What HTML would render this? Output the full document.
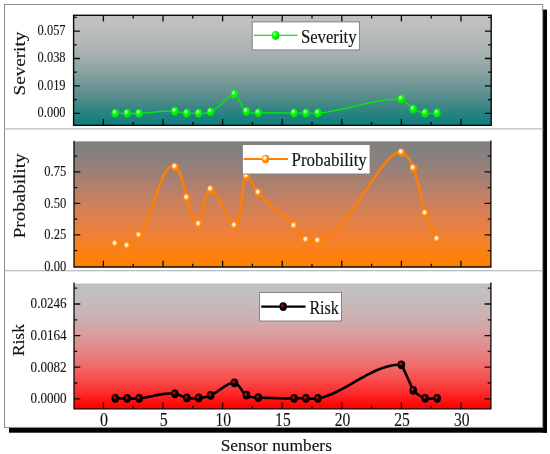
<!DOCTYPE html>
<html lang="en"><head><meta charset="utf-8"><title>Sensor numbers</title>
<style>html,body{margin:0;padding:0;background:#fff;}svg{display:block;}text{font-family:"Liberation Serif","DejaVu Serif",serif;fill:#141414;stroke:#141414;stroke-width:0.16px;}</style></head><body>
<svg width="550" height="454" viewBox="0 0 550 454">
<defs>
<linearGradient id="g1" x1="0" y1="0" x2="0" y2="1"><stop offset="0.0000" stop-color="#c0c0c0"/><stop offset="0.0312" stop-color="#c0c0c0"/><stop offset="0.0625" stop-color="#bfbfbf"/><stop offset="0.0938" stop-color="#bebfbf"/><stop offset="0.1250" stop-color="#bcbebe"/><stop offset="0.1562" stop-color="#babdbd"/><stop offset="0.1875" stop-color="#b8bbbb"/><stop offset="0.2188" stop-color="#b5bab9"/><stop offset="0.2500" stop-color="#b2b8b8"/><stop offset="0.2812" stop-color="#afb6b6"/><stop offset="0.3125" stop-color="#abb4b3"/><stop offset="0.3438" stop-color="#a7b1b1"/><stop offset="0.3750" stop-color="#a2afaf"/><stop offset="0.4062" stop-color="#9dacac"/><stop offset="0.4375" stop-color="#98aaa9"/><stop offset="0.4688" stop-color="#93a7a6"/><stop offset="0.5000" stop-color="#8da4a3"/><stop offset="0.5312" stop-color="#87a1a0"/><stop offset="0.5625" stop-color="#809e9d"/><stop offset="0.5938" stop-color="#7a9b9a"/><stop offset="0.6250" stop-color="#729897"/><stop offset="0.6562" stop-color="#6b9594"/><stop offset="0.6875" stop-color="#639291"/><stop offset="0.7188" stop-color="#5b8f8e"/><stop offset="0.7500" stop-color="#538d8b"/><stop offset="0.7812" stop-color="#4a8a88"/><stop offset="0.8125" stop-color="#418886"/><stop offset="0.8438" stop-color="#378584"/><stop offset="0.8750" stop-color="#2e8482"/><stop offset="0.9062" stop-color="#248280"/><stop offset="0.9375" stop-color="#1a817f"/><stop offset="0.9688" stop-color="#12807e"/><stop offset="1.0000" stop-color="#0e807e"/></linearGradient>
<linearGradient id="g2" x1="0" y1="0" x2="0" y2="1"><stop offset="0.0000" stop-color="#808080"/><stop offset="0.0312" stop-color="#818080"/><stop offset="0.0625" stop-color="#82807f"/><stop offset="0.0938" stop-color="#85807f"/><stop offset="0.1250" stop-color="#89807d"/><stop offset="0.1562" stop-color="#8d807c"/><stop offset="0.1875" stop-color="#92807a"/><stop offset="0.2188" stop-color="#988078"/><stop offset="0.2500" stop-color="#9d8076"/><stop offset="0.2812" stop-color="#a38074"/><stop offset="0.3125" stop-color="#a98071"/><stop offset="0.3438" stop-color="#af806e"/><stop offset="0.3750" stop-color="#b5806b"/><stop offset="0.4062" stop-color="#bb8068"/><stop offset="0.4375" stop-color="#c18064"/><stop offset="0.4688" stop-color="#c78060"/><stop offset="0.5000" stop-color="#cd805c"/><stop offset="0.5312" stop-color="#d28058"/><stop offset="0.5625" stop-color="#d78054"/><stop offset="0.5938" stop-color="#dc804f"/><stop offset="0.6250" stop-color="#e1804a"/><stop offset="0.6562" stop-color="#e58045"/><stop offset="0.6875" stop-color="#e9803f"/><stop offset="0.7188" stop-color="#ed803a"/><stop offset="0.7500" stop-color="#f18034"/><stop offset="0.7812" stop-color="#f4802d"/><stop offset="0.8125" stop-color="#f78027"/><stop offset="0.8438" stop-color="#f98020"/><stop offset="0.8750" stop-color="#fb8018"/><stop offset="0.9062" stop-color="#fd8010"/><stop offset="0.9375" stop-color="#fe8008"/><stop offset="0.9688" stop-color="#ff8002"/><stop offset="1.0000" stop-color="#ff8000"/></linearGradient>
<linearGradient id="g3" x1="0" y1="0" x2="0" y2="1"><stop offset="0.0000" stop-color="#c0c0c0"/><stop offset="0.0312" stop-color="#c0c0c0"/><stop offset="0.0625" stop-color="#c1bfbf"/><stop offset="0.0938" stop-color="#c2bebe"/><stop offset="0.1250" stop-color="#c3bcbc"/><stop offset="0.1562" stop-color="#c5baba"/><stop offset="0.1875" stop-color="#c7b8b8"/><stop offset="0.2188" stop-color="#c9b5b5"/><stop offset="0.2500" stop-color="#ccb2b2"/><stop offset="0.2812" stop-color="#ceaeae"/><stop offset="0.3125" stop-color="#d1abab"/><stop offset="0.3438" stop-color="#d4a6a6"/><stop offset="0.3750" stop-color="#d7a2a2"/><stop offset="0.4062" stop-color="#da9d9d"/><stop offset="0.4375" stop-color="#dd9898"/><stop offset="0.4688" stop-color="#df9292"/><stop offset="0.5000" stop-color="#e28c8c"/><stop offset="0.5312" stop-color="#e58686"/><stop offset="0.5625" stop-color="#e88080"/><stop offset="0.5938" stop-color="#eb7979"/><stop offset="0.6250" stop-color="#ed7272"/><stop offset="0.6562" stop-color="#f06a6a"/><stop offset="0.6875" stop-color="#f26262"/><stop offset="0.7188" stop-color="#f45a5a"/><stop offset="0.7500" stop-color="#f75151"/><stop offset="0.7812" stop-color="#f84848"/><stop offset="0.8125" stop-color="#fa3e3e"/><stop offset="0.8438" stop-color="#fb3434"/><stop offset="0.8750" stop-color="#fd2929"/><stop offset="0.9062" stop-color="#fe1e1e"/><stop offset="0.9375" stop-color="#fe1212"/><stop offset="0.9688" stop-color="#ff0505"/><stop offset="1.0000" stop-color="#ff0000"/></linearGradient>
<radialGradient id="mg" cx="0.38" cy="0.36" r="0.62" fx="0.36" fy="0.34"><stop offset="0" stop-color="#ffffff"/><stop offset="0.22" stop-color="#80ff80"/><stop offset="0.45" stop-color="#00ff00"/><stop offset="0.85" stop-color="#00f000"/><stop offset="1" stop-color="#00c820"/></radialGradient>
<radialGradient id="mo" cx="0.40" cy="0.38" r="0.62" fx="0.40" fy="0.38"><stop offset="0" stop-color="#ffffff"/><stop offset="0.16" stop-color="#ffffff"/><stop offset="0.42" stop-color="#ffb870"/><stop offset="0.62" stop-color="#ff8508"/><stop offset="1" stop-color="#ff8000"/></radialGradient>
<radialGradient id="mr" cx="0.40" cy="0.40" r="0.62" fx="0.40" fy="0.40"><stop offset="0" stop-color="#ec1010"/><stop offset="0.13" stop-color="#cc0a0a"/><stop offset="0.30" stop-color="#480000"/><stop offset="0.44" stop-color="#060000"/><stop offset="1" stop-color="#000000"/></radialGradient>
</defs>
<rect x="0" y="0" width="550" height="454" fill="#ffffff"/>
<rect x="542.5" y="9.6" width="4.5" height="423.1" fill="#000"/>
<rect x="9" y="427.6" width="538" height="5.1" fill="#000"/>
<rect x="4.5" y="4.5" width="538.2" height="422.9" fill="#fff" stroke="#8c8c8c" stroke-width="1"/>
<line x1="4.5" y1="128.9" x2="542.7" y2="128.9" stroke="#bdbdbd" stroke-width="1.1"/>
<line x1="4.5" y1="270.8" x2="542.7" y2="270.8" stroke="#adadad" stroke-width="1.1"/>
<rect x="73.6" y="15.3" width="417.6" height="110.0" fill="url(#g1)"/>
<path d="M115.32,113.40 L115.63,113.40 L115.94,113.40 L116.26,113.39 L116.57,113.39 L116.88,113.39 L117.19,113.39 L117.50,113.38 L117.81,113.38 L118.12,113.38 L118.43,113.38 L118.74,113.37 L119.05,113.37 L119.36,113.37 L119.67,113.37 L119.98,113.37 L120.29,113.37 L120.60,113.37 L120.91,113.36 L121.22,113.36 L121.52,113.36 L121.83,113.36 L122.14,113.36 L122.44,113.36 L122.75,113.36 L123.05,113.36 L123.35,113.36 L123.66,113.36 L123.96,113.37 L124.26,113.37 L124.56,113.37 L124.86,113.37 L125.16,113.37 L125.46,113.38 L125.76,113.38 L126.06,113.38 L126.36,113.39 L126.65,113.39 L126.95,113.40 L127.24,113.40 L127.53,113.41 L127.83,113.41 L128.12,113.42 L128.41,113.42 L128.70,113.43 L128.99,113.44 L129.28,113.44 L129.57,113.45 L129.86,113.45 L130.15,113.46 L130.44,113.47 L130.73,113.47 L131.02,113.48 L131.31,113.49 L131.61,113.49 L131.90,113.50 L132.19,113.50 L132.49,113.50 L132.79,113.51 L133.08,113.51 L133.38,113.51 L133.68,113.52 L133.99,113.52 L134.29,113.52 L134.60,113.52 L134.91,113.52 L135.22,113.51 L135.53,113.51 L135.85,113.51 L136.16,113.50 L136.48,113.50 L136.81,113.49 L137.13,113.48 L137.46,113.47 L137.80,113.46 L138.13,113.45 L138.47,113.43 L138.81,113.42 L139.16,113.40 L139.97,113.36 L140.79,113.30 L141.63,113.25 L142.49,113.18 L143.36,113.11 L144.25,113.03 L145.15,112.95 L146.07,112.87 L146.99,112.78 L147.93,112.69 L148.87,112.60 L149.83,112.50 L150.79,112.40 L151.75,112.31 L152.72,112.21 L153.70,112.11 L154.68,112.02 L155.66,111.92 L156.64,111.83 L157.62,111.74 L158.60,111.65 L159.58,111.57 L160.56,111.49 L161.53,111.42 L162.50,111.35 L163.46,111.29 L164.41,111.23 L165.36,111.19 L166.29,111.15 L167.22,111.11 L168.13,111.09 L169.03,111.08 L169.92,111.08 L170.80,111.08 L171.66,111.10 L172.50,111.13 L173.33,111.18 L174.13,111.23 L174.92,111.30 L175.27,111.34 L175.61,111.37 L175.95,111.41 L176.29,111.46 L176.62,111.50 L176.95,111.55 L177.27,111.60 L177.60,111.65 L177.92,111.70 L178.23,111.76 L178.55,111.81 L178.86,111.87 L179.17,111.93 L179.47,111.99 L179.78,112.05 L180.08,112.11 L180.38,112.17 L180.68,112.23 L180.98,112.29 L181.28,112.35 L181.57,112.41 L181.87,112.47 L182.16,112.53 L182.45,112.59 L182.74,112.65 L183.03,112.71 L183.32,112.76 L183.62,112.82 L183.91,112.87 L184.20,112.92 L184.49,112.97 L184.78,113.02 L185.07,113.07 L185.36,113.11 L185.66,113.16 L185.95,113.20 L186.25,113.23 L186.54,113.27 L186.84,113.30 L187.13,113.33 L187.42,113.35 L187.72,113.38 L188.01,113.40 L188.31,113.41 L188.61,113.43 L188.91,113.44 L189.20,113.45 L189.51,113.46 L189.81,113.47 L190.11,113.47 L190.41,113.47 L190.72,113.48 L191.02,113.48 L191.33,113.47 L191.64,113.47 L191.94,113.47 L192.25,113.46 L192.56,113.46 L192.87,113.45 L193.18,113.44 L193.49,113.43 L193.80,113.43 L194.11,113.42 L194.42,113.41 L194.73,113.40 L195.04,113.39 L195.35,113.38 L195.66,113.37 L195.97,113.36 L196.28,113.35 L196.59,113.34 L196.90,113.33 L197.21,113.33 L197.52,113.32 L197.83,113.31 L198.14,113.31 L198.45,113.30 L198.76,113.30 L199.07,113.30 L199.38,113.30 L199.69,113.30 L200.00,113.30 L200.31,113.30 L200.62,113.30 L200.93,113.30 L201.24,113.30 L201.55,113.30 L201.86,113.30 L202.16,113.30 L202.47,113.30 L202.78,113.29 L203.08,113.29 L203.39,113.28 L203.70,113.27 L204.00,113.26 L204.31,113.24 L204.61,113.22 L204.92,113.20 L205.22,113.18 L205.52,113.15 L205.83,113.12 L206.13,113.08 L206.44,113.04 L206.74,113.00 L207.04,112.95 L207.35,112.89 L207.65,112.83 L207.95,112.77 L208.25,112.70 L208.56,112.62 L208.86,112.54 L209.16,112.45 L209.47,112.35 L209.77,112.25 L210.07,112.14 L210.38,112.02 L210.68,111.90 L211.39,111.58 L212.10,111.22 L212.81,110.82 L213.52,110.38 L214.23,109.92 L214.94,109.42 L215.65,108.90 L216.35,108.36 L217.05,107.79 L217.75,107.21 L218.44,106.61 L219.13,105.99 L219.81,105.37 L220.49,104.74 L221.16,104.10 L221.83,103.46 L222.49,102.82 L223.15,102.19 L223.79,101.56 L224.43,100.94 L225.06,100.33 L225.69,99.73 L226.30,99.15 L226.90,98.59 L227.50,98.05 L228.08,97.54 L228.65,97.05 L229.21,96.59 L229.76,96.17 L230.30,95.78 L230.83,95.42 L231.34,95.11 L231.84,94.85 L232.32,94.62 L232.79,94.45 L233.25,94.33 L233.69,94.26 L234.11,94.25 L234.52,94.30 L234.86,94.39 L235.19,94.53 L235.51,94.71 L235.82,94.92 L236.11,95.18 L236.40,95.47 L236.69,95.80 L236.96,96.16 L237.23,96.55 L237.50,96.97 L237.76,97.41 L238.01,97.87 L238.27,98.36 L238.52,98.86 L238.77,99.39 L239.02,99.93 L239.27,100.48 L239.52,101.04 L239.77,101.61 L240.03,102.18 L240.29,102.77 L240.55,103.35 L240.82,103.93 L241.09,104.52 L241.37,105.09 L241.66,105.67 L241.96,106.23 L242.26,106.78 L242.58,107.33 L242.90,107.85 L243.24,108.36 L243.59,108.86 L243.95,109.33 L244.33,109.78 L244.72,110.20 L245.12,110.59 L245.54,110.96 L245.98,111.30 L246.44,111.60 L246.67,111.74 L246.91,111.86 L247.15,111.98 L247.39,112.09 L247.64,112.20 L247.89,112.29 L248.15,112.38 L248.41,112.47 L248.68,112.54 L248.95,112.61 L249.22,112.68 L249.50,112.73 L249.78,112.78 L250.07,112.83 L250.36,112.87 L250.65,112.91 L250.95,112.94 L251.25,112.96 L251.55,112.99 L251.86,113.00 L252.17,113.02 L252.49,113.03 L252.81,113.04 L253.13,113.04 L253.45,113.04 L253.78,113.04 L254.12,113.04 L254.45,113.03 L254.79,113.03 L255.14,113.02 L255.48,113.01 L255.83,112.99 L256.18,112.98 L256.54,112.97 L256.90,112.95 L257.26,112.94 L257.62,112.93 L257.99,112.91 L258.36,112.90 L259.20,112.87 L260.06,112.85 L260.93,112.83 L261.81,112.81 L262.71,112.80 L263.61,112.79 L264.52,112.78 L265.45,112.78 L266.38,112.77 L267.31,112.77 L268.26,112.78 L269.21,112.78 L270.16,112.79 L271.12,112.79 L272.08,112.80 L273.05,112.81 L274.01,112.83 L274.98,112.84 L275.95,112.85 L276.92,112.87 L277.88,112.88 L278.85,112.90 L279.81,112.92 L280.76,112.93 L281.71,112.95 L282.66,112.97 L283.60,112.98 L284.53,113.00 L285.46,113.01 L286.38,113.03 L287.29,113.04 L288.18,113.06 L289.07,113.07 L289.95,113.08 L290.81,113.08 L291.66,113.09 L292.49,113.10 L293.31,113.10 L294.12,113.10 L294.47,113.10 L294.81,113.10 L295.16,113.10 L295.49,113.10 L295.83,113.09 L296.16,113.09 L296.49,113.09 L296.82,113.09 L297.15,113.08 L297.47,113.08 L297.79,113.08 L298.11,113.08 L298.42,113.07 L298.74,113.07 L299.05,113.07 L299.36,113.06 L299.67,113.06 L299.97,113.06 L300.27,113.06 L300.57,113.05 L300.87,113.05 L301.17,113.05 L301.47,113.05 L301.76,113.05 L302.06,113.05 L302.35,113.05 L302.64,113.05 L302.93,113.05 L303.21,113.05 L303.50,113.05 L303.79,113.05 L304.07,113.06 L304.35,113.06 L304.64,113.07 L304.92,113.07 L305.20,113.08 L305.48,113.08 L305.76,113.09 L306.04,113.10 L306.32,113.11 L306.60,113.12 L306.88,113.13 L307.15,113.14 L307.43,113.15 L307.71,113.17 L307.99,113.18 L308.27,113.19 L308.55,113.21 L308.83,113.22 L309.11,113.23 L309.40,113.24 L309.68,113.26 L309.97,113.27 L310.25,113.28 L310.54,113.29 L310.83,113.30 L311.12,113.31 L311.42,113.32 L311.72,113.32 L312.01,113.33 L312.32,113.33 L312.62,113.34 L312.93,113.34 L313.24,113.34 L313.55,113.34 L313.87,113.33 L314.19,113.33 L314.51,113.32 L314.84,113.31 L315.17,113.29 L315.50,113.28 L315.84,113.26 L316.18,113.24 L316.53,113.22 L316.88,113.19 L317.23,113.17 L317.59,113.13 L317.96,113.10 L320.10,112.91 L322.24,112.68 L324.38,112.42 L326.52,112.12 L328.66,111.79 L330.80,111.44 L332.94,111.06 L335.08,110.65 L337.22,110.23 L339.35,109.78 L341.49,109.32 L343.63,108.85 L345.77,108.36 L347.91,107.86 L350.05,107.36 L352.19,106.85 L354.33,106.33 L356.47,105.82 L358.61,105.31 L360.75,104.80 L362.89,104.30 L365.03,103.81 L367.17,103.33 L369.31,102.87 L371.45,102.42 L373.59,101.99 L375.73,101.58 L377.87,101.19 L380.01,100.83 L382.14,100.49 L384.28,100.19 L386.42,99.91 L388.56,99.67 L390.70,99.47 L392.84,99.31 L394.98,99.19 L397.12,99.11 L399.26,99.08 L401.40,99.10 L401.71,99.33 L402.01,99.57 L402.32,99.80 L402.62,100.04 L402.93,100.29 L403.23,100.53 L403.54,100.78 L403.85,101.03 L404.15,101.28 L404.46,101.54 L404.76,101.80 L405.07,102.06 L405.37,102.32 L405.68,102.58 L405.98,102.85 L406.29,103.11 L406.60,103.38 L406.90,103.65 L407.21,103.92 L407.51,104.19 L407.82,104.46 L408.12,104.73 L408.43,105.00 L408.74,105.27 L409.04,105.54 L409.35,105.82 L409.65,106.09 L409.96,106.36 L410.26,106.63 L410.57,106.90 L410.87,107.17 L411.18,107.44 L411.49,107.71 L411.79,107.98 L412.10,108.25 L412.40,108.51 L412.71,108.78 L413.01,109.04 L413.32,109.30 L413.63,109.45 L413.93,109.60 L414.24,109.75 L414.54,109.89 L414.85,110.03 L415.15,110.17 L415.46,110.31 L415.77,110.44 L416.07,110.57 L416.38,110.70 L416.68,110.82 L416.99,110.94 L417.29,111.06 L417.60,111.18 L417.90,111.29 L418.21,111.40 L418.52,111.51 L418.82,111.61 L419.13,111.72 L419.43,111.82 L419.74,111.91 L420.04,112.00 L420.35,112.09 L420.66,112.18 L420.96,112.26 L421.27,112.34 L421.57,112.42 L421.88,112.50 L422.18,112.57 L422.49,112.64 L422.79,112.70 L423.10,112.76 L423.41,112.82 L423.71,112.87 L424.02,112.93 L424.32,112.97 L424.63,113.02 L424.93,113.06 L425.24,113.10 L425.55,113.13 L425.85,113.16 L426.16,113.18 L426.46,113.20 L426.77,113.23 L427.08,113.24 L427.38,113.26 L427.69,113.28 L428.00,113.29 L428.30,113.30 L428.61,113.31 L428.91,113.32 L429.22,113.32 L429.52,113.33 L429.83,113.33 L430.14,113.33 L430.44,113.33 L430.75,113.33 L431.05,113.33 L431.36,113.32 L431.66,113.32 L431.97,113.31 L432.27,113.30 L432.58,113.30 L432.89,113.29 L433.19,113.28 L433.50,113.27 L433.80,113.26 L434.11,113.24 L434.41,113.23 L434.72,113.22 L435.02,113.20 L435.33,113.19 L435.63,113.18 L435.94,113.16 L436.24,113.15 L436.55,113.13 L436.85,113.12 L437.16,113.10" fill="none" stroke="#00f000" stroke-width="1.3"/>
<ellipse cx="115.32" cy="113.40" rx="3.8" ry="4.5" fill="url(#mg)"/>
<ellipse cx="127.24" cy="113.40" rx="3.8" ry="4.5" fill="url(#mg)"/>
<ellipse cx="139.16" cy="113.40" rx="3.8" ry="4.5" fill="url(#mg)"/>
<ellipse cx="174.92" cy="111.30" rx="3.8" ry="4.5" fill="url(#mg)"/>
<ellipse cx="186.84" cy="113.30" rx="3.8" ry="4.5" fill="url(#mg)"/>
<ellipse cx="198.76" cy="113.30" rx="3.8" ry="4.5" fill="url(#mg)"/>
<ellipse cx="210.68" cy="111.90" rx="3.8" ry="4.5" fill="url(#mg)"/>
<ellipse cx="234.52" cy="94.30" rx="3.8" ry="4.5" fill="url(#mg)"/>
<ellipse cx="246.44" cy="111.60" rx="3.8" ry="4.5" fill="url(#mg)"/>
<ellipse cx="258.36" cy="112.90" rx="3.8" ry="4.5" fill="url(#mg)"/>
<ellipse cx="294.12" cy="113.10" rx="3.8" ry="4.5" fill="url(#mg)"/>
<ellipse cx="306.04" cy="113.10" rx="3.8" ry="4.5" fill="url(#mg)"/>
<ellipse cx="317.96" cy="113.10" rx="3.8" ry="4.5" fill="url(#mg)"/>
<ellipse cx="401.40" cy="99.10" rx="3.8" ry="4.5" fill="url(#mg)"/>
<ellipse cx="413.32" cy="109.30" rx="3.8" ry="4.5" fill="url(#mg)"/>
<ellipse cx="425.24" cy="113.10" rx="3.8" ry="4.5" fill="url(#mg)"/>
<ellipse cx="437.16" cy="113.10" rx="3.8" ry="4.5" fill="url(#mg)"/>
<path d="M73.60,31.10h6.30M73.60,58.50h6.30M73.60,85.90h6.30M73.60,113.30h6.30M73.60,17.40h3.20M73.60,44.80h3.20M73.60,72.20h3.20M73.60,99.60h3.20" stroke="#0a0a0a" stroke-width="1.3" fill="none"/>
<path d="M491.20,31.10h-6.30M491.20,58.50h-6.30M491.20,85.90h-6.30M491.20,113.30h-6.30M491.20,17.40h-3.20M491.20,44.80h-3.20M491.20,72.20h-3.20M491.20,99.60h-3.20" stroke="#0a0a0a" stroke-width="1.3" fill="none"/>
<path d="M103.40,15.30v6.30M163.00,15.30v6.30M222.60,15.30v6.30M282.20,15.30v6.30M341.80,15.30v6.30M401.40,15.30v6.30M461.00,15.30v6.30M133.20,15.30v3.20M192.80,15.30v3.20M252.40,15.30v3.20M312.00,15.30v3.20M371.60,15.30v3.20M431.20,15.30v3.20" stroke="#0a0a0a" stroke-width="1.3" fill="none"/>
<path d="M103.40,125.30v-6.30M163.00,125.30v-6.30M222.60,125.30v-6.30M282.20,125.30v-6.30M341.80,125.30v-6.30M401.40,125.30v-6.30M461.00,125.30v-6.30M133.20,125.30v-3.20M192.80,125.30v-3.20M252.40,125.30v-3.20M312.00,125.30v-3.20M371.60,125.30v-3.20M431.20,125.30v-3.20" stroke="#0a0a0a" stroke-width="1.3" fill="none"/>
<rect x="73.6" y="15.3" width="417.6" height="110.0" fill="none" stroke="#0a0a0a" stroke-width="1.4"/>
<rect x="252.2" y="21.9" width="107.4" height="28" fill="#fff" stroke="#7a7a7a" stroke-width="0.9"/>
<line x1="254" y1="35.4" x2="297.3" y2="35.4" stroke="#00f000" stroke-width="1.4"/>
<ellipse cx="275.6" cy="35.4" rx="3.8" ry="4.4" fill="url(#mg)"/>
<text transform="translate(300.90,43.30) scale(0.8363,0.9394)" font-size="20.0" >Severity</text>
<rect x="74.0" y="141.4" width="416.9" height="125.6" fill="url(#g2)"/>
<path d="M115.32,244.00 L115.65,244.09 L115.97,244.18 L116.30,244.27 L116.63,244.36 L116.95,244.45 L117.28,244.54 L117.60,244.63 L117.93,244.72 L118.25,244.80 L118.57,244.88 L118.89,244.97 L119.22,245.05 L119.54,245.13 L119.85,245.20 L120.17,245.28 L120.49,245.35 L120.80,245.42 L121.12,245.49 L121.43,245.55 L121.74,245.61 L122.05,245.67 L122.36,245.73 L122.66,245.78 L122.97,245.82 L123.27,245.87 L123.57,245.91 L123.87,245.94 L124.16,245.98 L124.45,246.00 L124.75,246.03 L125.03,246.04 L125.32,246.06 L125.60,246.07 L125.88,246.07 L126.16,246.07 L126.43,246.06 L126.71,246.04 L126.97,246.03 L127.24,246.00 L127.63,245.95 L128.02,245.89 L128.40,245.81 L128.77,245.72 L129.14,245.62 L129.50,245.50 L129.85,245.37 L130.20,245.23 L130.54,245.08 L130.87,244.91 L131.21,244.73 L131.53,244.54 L131.85,244.34 L132.17,244.12 L132.48,243.89 L132.79,243.66 L133.09,243.41 L133.39,243.15 L133.69,242.88 L133.98,242.59 L134.27,242.30 L134.56,242.00 L134.84,241.69 L135.12,241.36 L135.40,241.03 L135.68,240.69 L135.95,240.33 L136.23,239.97 L136.50,239.60 L136.77,239.22 L137.04,238.83 L137.30,238.43 L137.57,238.02 L137.83,237.60 L138.10,237.18 L138.36,236.75 L138.63,236.31 L138.89,235.86 L139.16,235.40 L140.08,234.38 L140.99,233.15 L141.91,231.73 L142.83,230.13 L143.74,228.37 L144.66,226.46 L145.58,224.41 L146.50,222.24 L147.41,219.95 L148.33,217.57 L149.25,215.11 L150.16,212.57 L151.08,209.98 L152.00,207.35 L152.91,204.69 L153.83,202.01 L154.75,199.33 L155.66,196.66 L156.58,194.02 L157.50,191.41 L158.42,188.85 L159.33,186.36 L160.25,183.95 L161.17,181.63 L162.08,179.41 L163.00,177.32 L163.92,175.35 L164.83,173.53 L165.75,171.87 L166.67,170.39 L167.58,169.09 L168.50,167.99 L169.42,167.10 L170.34,166.44 L171.25,166.01 L172.17,165.85 L173.09,165.95 L174.00,166.33 L174.92,167.00 L175.28,167.06 L175.63,167.17 L175.98,167.34 L176.31,167.56 L176.65,167.83 L176.98,168.15 L177.30,168.51 L177.62,168.93 L177.94,169.39 L178.25,169.89 L178.55,170.43 L178.86,171.02 L179.16,171.65 L179.46,172.31 L179.75,173.02 L180.04,173.76 L180.33,174.53 L180.62,175.34 L180.91,176.18 L181.20,177.05 L181.48,177.95 L181.77,178.88 L182.06,179.84 L182.34,180.82 L182.63,181.83 L182.91,182.86 L183.20,183.91 L183.49,184.99 L183.78,186.08 L184.07,187.19 L184.37,188.32 L184.66,189.46 L184.96,190.62 L185.27,191.79 L185.57,192.98 L185.88,194.17 L186.20,195.37 L186.52,196.58 L186.84,197.80 L187.13,198.90 L187.43,200.00 L187.73,201.10 L188.04,202.20 L188.35,203.30 L188.66,204.39 L188.97,205.47 L189.29,206.55 L189.60,207.61 L189.92,208.66 L190.24,209.69 L190.56,210.70 L190.89,211.70 L191.21,212.67 L191.53,213.63 L191.85,214.55 L192.18,215.45 L192.50,216.32 L192.82,217.16 L193.15,217.96 L193.47,218.73 L193.79,219.46 L194.10,220.16 L194.42,220.81 L194.73,221.42 L195.04,221.98 L195.35,222.50 L195.66,222.96 L195.96,223.38 L196.26,223.74 L196.56,224.05 L196.85,224.30 L197.13,224.50 L197.42,224.63 L197.70,224.69 L197.97,224.70 L198.24,224.64 L198.50,224.50 L198.76,224.30 L199.07,223.96 L199.36,223.51 L199.65,222.97 L199.94,222.34 L200.21,221.62 L200.49,220.83 L200.75,219.97 L201.02,219.03 L201.27,218.04 L201.53,216.99 L201.79,215.90 L202.04,214.76 L202.29,213.59 L202.54,212.38 L202.79,211.15 L203.05,209.90 L203.30,208.63 L203.56,207.36 L203.82,206.09 L204.08,204.82 L204.35,203.56 L204.63,202.32 L204.91,201.10 L205.19,199.91 L205.48,198.75 L205.78,197.63 L206.09,196.56 L206.41,195.54 L206.74,194.58 L207.08,193.68 L207.42,192.85 L207.78,192.09 L208.16,191.42 L208.54,190.83 L208.94,190.33 L209.35,189.94 L209.78,189.65 L210.22,189.46 L210.68,189.40 L211.19,189.46 L211.72,189.66 L212.26,189.98 L212.82,190.42 L213.39,190.97 L213.98,191.63 L214.59,192.38 L215.20,193.23 L215.82,194.16 L216.46,195.16 L217.10,196.23 L217.75,197.36 L218.41,198.55 L219.08,199.79 L219.75,201.07 L220.42,202.38 L221.09,203.72 L221.77,205.07 L222.45,206.44 L223.12,207.82 L223.80,209.19 L224.47,210.56 L225.14,211.91 L225.81,213.24 L226.46,214.53 L227.12,215.79 L227.76,217.01 L228.40,218.17 L229.02,219.28 L229.64,220.32 L230.24,221.29 L230.83,222.18 L231.41,222.99 L231.97,223.70 L232.52,224.31 L233.05,224.81 L233.56,225.20 L234.05,225.46 L234.52,225.60 L235.06,225.59 L235.57,225.39 L236.06,225.01 L236.51,224.47 L236.95,223.76 L237.35,222.91 L237.74,221.93 L238.10,220.81 L238.45,219.57 L238.77,218.23 L239.08,216.79 L239.38,215.25 L239.66,213.64 L239.93,211.96 L240.18,210.22 L240.43,208.43 L240.66,206.60 L240.89,204.74 L241.12,202.86 L241.33,200.98 L241.55,199.08 L241.76,197.20 L241.98,195.34 L242.19,193.51 L242.41,191.72 L242.63,189.97 L242.85,188.28 L243.08,186.67 L243.32,185.13 L243.57,183.68 L243.83,182.32 L244.10,181.08 L244.38,179.95 L244.68,178.95 L245.00,178.08 L245.33,177.37 L245.68,176.81 L246.05,176.42 L246.44,176.20 L246.63,176.16 L246.83,176.16 L247.03,176.20 L247.23,176.28 L247.44,176.39 L247.66,176.54 L247.88,176.72 L248.11,176.93 L248.34,177.18 L248.58,177.45 L248.83,177.75 L249.08,178.08 L249.34,178.43 L249.60,178.81 L249.87,179.22 L250.14,179.64 L250.42,180.09 L250.71,180.55 L251.00,181.04 L251.31,181.54 L251.61,182.06 L251.93,182.60 L252.25,183.14 L252.57,183.70 L252.91,184.28 L253.25,184.86 L253.60,185.45 L253.95,186.05 L254.32,186.65 L254.69,187.27 L255.06,187.88 L255.45,188.50 L255.84,189.12 L256.24,189.74 L256.65,190.36 L257.07,190.97 L257.49,191.59 L257.92,192.20 L258.36,192.80 L259.17,193.87 L260.01,194.92 L260.86,195.94 L261.75,196.95 L262.65,197.94 L263.56,198.91 L264.50,199.86 L265.45,200.80 L266.42,201.72 L267.39,202.62 L268.38,203.52 L269.38,204.39 L270.39,205.26 L271.40,206.11 L272.41,206.96 L273.43,207.79 L274.45,208.61 L275.47,209.43 L276.49,210.23 L277.51,211.03 L278.52,211.83 L279.52,212.62 L280.52,213.40 L281.50,214.18 L282.48,214.96 L283.44,215.74 L284.39,216.51 L285.33,217.28 L286.24,218.06 L287.14,218.83 L288.02,219.61 L288.87,220.39 L289.70,221.18 L290.51,221.96 L291.29,222.76 L292.05,223.56 L292.77,224.36 L293.46,225.18 L294.12,226.00 L294.44,226.42 L294.75,226.83 L295.05,227.25 L295.34,227.67 L295.63,228.09 L295.92,228.51 L296.20,228.93 L296.47,229.35 L296.74,229.77 L297.01,230.19 L297.27,230.61 L297.53,231.02 L297.79,231.43 L298.06,231.84 L298.32,232.25 L298.58,232.65 L298.84,233.05 L299.10,233.44 L299.36,233.83 L299.63,234.22 L299.90,234.60 L300.18,234.97 L300.46,235.33 L300.74,235.69 L301.03,236.05 L301.33,236.39 L301.63,236.73 L301.95,237.05 L302.27,237.37 L302.59,237.68 L302.93,237.98 L303.28,238.28 L303.64,238.56 L304.01,238.83 L304.39,239.08 L304.78,239.33 L305.19,239.57 L305.61,239.79 L306.04,240.00 L306.29,240.11 L306.54,240.22 L306.80,240.32 L307.06,240.42 L307.32,240.52 L307.59,240.61 L307.87,240.69 L308.14,240.77 L308.42,240.85 L308.71,240.92 L308.99,240.99 L309.29,241.06 L309.58,241.12 L309.88,241.17 L310.18,241.22 L310.48,241.27 L310.78,241.31 L311.09,241.34 L311.40,241.37 L311.72,241.40 L312.03,241.42 L312.35,241.44 L312.67,241.45 L312.99,241.45 L313.31,241.45 L313.64,241.45 L313.96,241.44 L314.29,241.42 L314.62,241.40 L314.95,241.38 L315.28,241.35 L315.61,241.31 L315.95,241.27 L316.28,241.22 L316.62,241.17 L316.95,241.11 L317.29,241.05 L317.62,240.98 L317.96,240.90 L320.41,240.18 L322.86,239.17 L325.31,237.89 L327.77,236.35 L330.22,234.57 L332.66,232.57 L335.10,230.37 L337.54,227.97 L339.96,225.41 L342.38,222.69 L344.78,219.84 L347.18,216.86 L349.55,213.78 L351.92,210.61 L354.26,207.38 L356.59,204.08 L358.89,200.76 L361.17,197.41 L363.44,194.06 L365.67,190.72 L367.88,187.42 L370.06,184.16 L372.21,180.97 L374.33,177.86 L376.42,174.84 L378.48,171.94 L380.49,169.18 L382.48,166.56 L384.42,164.11 L386.32,161.84 L388.18,159.77 L390.00,157.91 L391.78,156.29 L393.50,154.92 L395.18,153.82 L396.82,152.99 L398.40,152.47 L399.93,152.27 L401.40,152.40 L401.78,152.49 L402.16,152.61 L402.53,152.75 L402.91,152.91 L403.27,153.10 L403.63,153.31 L403.99,153.53 L404.35,153.78 L404.70,154.05 L405.05,154.34 L405.39,154.64 L405.73,154.97 L406.06,155.31 L406.39,155.66 L406.72,156.04 L407.04,156.43 L407.36,156.83 L407.68,157.25 L407.99,157.68 L408.29,158.12 L408.59,158.58 L408.89,159.05 L409.19,159.53 L409.48,160.02 L409.76,160.52 L410.04,161.03 L410.32,161.55 L410.59,162.07 L410.86,162.60 L411.13,163.14 L411.39,163.69 L411.64,164.24 L411.90,164.80 L412.14,165.36 L412.39,165.92 L412.63,166.49 L412.86,167.06 L413.09,167.63 L413.32,168.20 L413.78,169.39 L414.21,170.57 L414.63,171.76 L415.04,172.96 L415.43,174.15 L415.80,175.34 L416.16,176.54 L416.51,177.73 L416.85,178.92 L417.17,180.12 L417.49,181.31 L417.79,182.50 L418.09,183.70 L418.38,184.89 L418.66,186.08 L418.93,187.26 L419.20,188.45 L419.46,189.63 L419.72,190.81 L419.97,191.98 L420.23,193.16 L420.48,194.33 L420.73,195.49 L420.98,196.65 L421.23,197.81 L421.48,198.96 L421.73,200.11 L421.99,201.25 L422.25,202.39 L422.52,203.52 L422.79,204.65 L423.06,205.77 L423.35,206.88 L423.64,207.99 L423.94,209.08 L424.25,210.17 L424.57,211.26 L424.90,212.33 L425.24,213.40 L425.48,214.11 L425.72,214.81 L425.96,215.52 L426.21,216.21 L426.47,216.91 L426.73,217.60 L427.00,218.29 L427.27,218.97 L427.55,219.66 L427.82,220.34 L428.11,221.01 L428.40,221.69 L428.69,222.36 L428.98,223.03 L429.28,223.69 L429.58,224.36 L429.89,225.02 L430.20,225.68 L430.51,226.33 L430.83,226.99 L431.14,227.64 L431.46,228.29 L431.79,228.94 L432.11,229.59 L432.44,230.24 L432.77,230.89 L433.10,231.53 L433.43,232.17 L433.76,232.82 L434.10,233.46 L434.44,234.10 L434.77,234.74 L435.11,235.38 L435.45,236.01 L435.79,236.65 L436.13,237.29 L436.48,237.93 L436.82,238.56 L437.16,239.20" fill="none" stroke="#ff8000" stroke-width="2.4" stroke-linejoin="round" stroke-linecap="round"/>
<ellipse cx="115.32" cy="244.00" rx="3.7" ry="4.2" fill="url(#mo)"/>
<ellipse cx="127.24" cy="246.00" rx="3.7" ry="4.2" fill="url(#mo)"/>
<ellipse cx="139.16" cy="235.40" rx="3.7" ry="4.2" fill="url(#mo)"/>
<ellipse cx="174.92" cy="167.00" rx="3.7" ry="4.2" fill="url(#mo)"/>
<ellipse cx="186.84" cy="197.80" rx="3.7" ry="4.2" fill="url(#mo)"/>
<ellipse cx="198.76" cy="224.30" rx="3.7" ry="4.2" fill="url(#mo)"/>
<ellipse cx="210.68" cy="189.40" rx="3.7" ry="4.2" fill="url(#mo)"/>
<ellipse cx="234.52" cy="225.60" rx="3.7" ry="4.2" fill="url(#mo)"/>
<ellipse cx="246.44" cy="176.20" rx="3.7" ry="4.2" fill="url(#mo)"/>
<ellipse cx="258.36" cy="192.80" rx="3.7" ry="4.2" fill="url(#mo)"/>
<ellipse cx="294.12" cy="226.00" rx="3.7" ry="4.2" fill="url(#mo)"/>
<ellipse cx="306.04" cy="240.00" rx="3.7" ry="4.2" fill="url(#mo)"/>
<ellipse cx="317.96" cy="240.90" rx="3.7" ry="4.2" fill="url(#mo)"/>
<ellipse cx="401.40" cy="152.40" rx="3.7" ry="4.2" fill="url(#mo)"/>
<ellipse cx="413.32" cy="168.20" rx="3.7" ry="4.2" fill="url(#mo)"/>
<ellipse cx="425.24" cy="213.40" rx="3.7" ry="4.2" fill="url(#mo)"/>
<ellipse cx="437.16" cy="239.20" rx="3.7" ry="4.2" fill="url(#mo)"/>
<path d="M74.00,171.90h6.30M74.00,203.40h6.30M74.00,234.90h6.30M74.00,156.15h3.20M74.00,187.65h3.20M74.00,219.15h3.20M74.00,250.65h3.20" stroke="#0a0a0a" stroke-width="1.3" fill="none"/>
<path d="M490.90,171.90h-6.30M490.90,203.40h-6.30M490.90,234.90h-6.30M490.90,156.15h-3.20M490.90,187.65h-3.20M490.90,219.15h-3.20M490.90,250.65h-3.20" stroke="#0a0a0a" stroke-width="1.3" fill="none"/>
<path d="M103.40,267.00v-6.30M163.00,267.00v-6.30M222.60,267.00v-6.30M282.20,267.00v-6.30M341.80,267.00v-6.30M401.40,267.00v-6.30M461.00,267.00v-6.30M133.20,267.00v-3.20M192.80,267.00v-3.20M252.40,267.00v-3.20M312.00,267.00v-3.20M371.60,267.00v-3.20M431.20,267.00v-3.20" stroke="#0a0a0a" stroke-width="1.3" fill="none"/>
<path d="M74.0,140.8V267.0H490.9V140.6" fill="none" stroke="#0a0a0a" stroke-width="1.3"/>
<rect x="242.3" y="144.6" width="127.8" height="29.4" fill="#fff" stroke="#7a7a7a" stroke-width="0.9"/>
<line x1="243.6" y1="159" x2="288" y2="159" stroke="#ff8000" stroke-width="2.2"/>
<ellipse cx="265.5" cy="159" rx="3.7" ry="4.2" fill="url(#mo)"/>
<text transform="translate(291.50,166.00) scale(0.8480,0.9231)" font-size="20.0" >Probability</text>
<rect x="74.0" y="283.5" width="416.9" height="125.39999999999998" fill="url(#g3)"/>
<path d="M115.32,398.40 L115.63,398.40 L115.94,398.39 L116.26,398.39 L116.57,398.38 L116.88,398.38 L117.19,398.37 L117.50,398.37 L117.81,398.36 L118.12,398.36 L118.43,398.35 L118.74,398.35 L119.05,398.35 L119.36,398.34 L119.67,398.34 L119.98,398.34 L120.29,398.33 L120.60,398.33 L120.91,398.33 L121.22,398.33 L121.52,398.33 L121.83,398.33 L122.14,398.33 L122.44,398.33 L122.75,398.33 L123.05,398.33 L123.36,398.33 L123.66,398.33 L123.96,398.33 L124.26,398.34 L124.56,398.34 L124.86,398.34 L125.16,398.35 L125.46,398.35 L125.76,398.36 L126.06,398.37 L126.36,398.37 L126.65,398.38 L126.95,398.39 L127.24,398.40 L127.53,398.41 L127.83,398.42 L128.12,398.43 L128.41,398.44 L128.70,398.46 L128.99,398.47 L129.28,398.48 L129.57,398.50 L129.86,398.51 L130.15,398.52 L130.44,398.53 L130.73,398.55 L131.02,398.56 L131.31,398.57 L131.60,398.58 L131.90,398.59 L132.19,398.60 L132.49,398.61 L132.78,398.61 L133.08,398.62 L133.38,398.63 L133.68,398.63 L133.98,398.63 L134.29,398.63 L134.60,398.63 L134.90,398.63 L135.21,398.63 L135.53,398.62 L135.84,398.61 L136.16,398.60 L136.48,398.59 L136.81,398.57 L137.13,398.56 L137.46,398.54 L137.79,398.52 L138.13,398.49 L138.47,398.46 L138.81,398.43 L139.16,398.40 L139.98,398.31 L140.81,398.21 L141.67,398.09 L142.54,397.96 L143.43,397.81 L144.33,397.66 L145.25,397.50 L146.17,397.32 L147.11,397.14 L148.06,396.96 L149.02,396.77 L149.99,396.57 L150.96,396.37 L151.94,396.17 L152.92,395.97 L153.91,395.77 L154.90,395.57 L155.89,395.37 L156.87,395.18 L157.86,394.99 L158.85,394.80 L159.83,394.63 L160.81,394.46 L161.78,394.30 L162.75,394.15 L163.71,394.02 L164.65,393.89 L165.59,393.78 L166.52,393.69 L167.43,393.61 L168.33,393.55 L169.22,393.50 L170.09,393.48 L170.95,393.47 L171.78,393.49 L172.60,393.53 L173.39,393.60 L174.17,393.69 L174.92,393.80 L175.27,393.86 L175.62,393.94 L175.96,394.01 L176.30,394.09 L176.63,394.18 L176.96,394.27 L177.29,394.37 L177.61,394.47 L177.92,394.57 L178.24,394.68 L178.55,394.79 L178.85,394.90 L179.16,395.02 L179.46,395.13 L179.76,395.25 L180.06,395.38 L180.35,395.50 L180.65,395.62 L180.94,395.75 L181.23,395.87 L181.52,396.00 L181.81,396.12 L182.10,396.24 L182.39,396.37 L182.68,396.49 L182.97,396.61 L183.26,396.73 L183.55,396.84 L183.84,396.96 L184.13,397.07 L184.42,397.18 L184.72,397.28 L185.01,397.39 L185.31,397.48 L185.61,397.58 L185.92,397.66 L186.22,397.75 L186.53,397.83 L186.84,397.90 L187.12,397.96 L187.41,398.02 L187.70,398.07 L187.98,398.12 L188.28,398.16 L188.57,398.20 L188.87,398.23 L189.17,398.26 L189.47,398.29 L189.77,398.32 L190.07,398.34 L190.37,398.35 L190.68,398.37 L190.99,398.38 L191.30,398.39 L191.61,398.39 L191.92,398.39 L192.23,398.39 L192.54,398.39 L192.85,398.39 L193.16,398.38 L193.48,398.37 L193.79,398.36 L194.10,398.34 L194.42,398.33 L194.73,398.31 L195.05,398.29 L195.36,398.27 L195.67,398.25 L195.99,398.23 L196.30,398.21 L196.61,398.18 L196.92,398.16 L197.23,398.13 L197.54,398.11 L197.85,398.08 L198.15,398.05 L198.46,398.03 L198.76,398.00 L199.08,397.97 L199.39,397.94 L199.70,397.92 L200.02,397.89 L200.33,397.86 L200.64,397.83 L200.94,397.80 L201.25,397.76 L201.56,397.73 L201.86,397.70 L202.17,397.66 L202.47,397.62 L202.77,397.58 L203.07,397.54 L203.37,397.50 L203.68,397.45 L203.98,397.41 L204.28,397.36 L204.58,397.30 L204.88,397.24 L205.18,397.19 L205.48,397.12 L205.78,397.06 L206.08,396.99 L206.38,396.91 L206.68,396.83 L206.98,396.75 L207.29,396.67 L207.59,396.58 L207.89,396.48 L208.20,396.38 L208.51,396.28 L208.81,396.17 L209.12,396.06 L209.43,395.94 L209.74,395.81 L210.05,395.68 L210.37,395.54 L210.68,395.40 L211.31,395.10 L211.95,394.78 L212.59,394.43 L213.23,394.07 L213.88,393.69 L214.54,393.29 L215.19,392.88 L215.85,392.46 L216.51,392.03 L217.18,391.59 L217.84,391.14 L218.50,390.69 L219.17,390.23 L219.83,389.77 L220.49,389.32 L221.15,388.86 L221.81,388.41 L222.46,387.96 L223.11,387.52 L223.76,387.09 L224.40,386.67 L225.03,386.26 L225.67,385.87 L226.29,385.49 L226.91,385.13 L227.52,384.79 L228.12,384.47 L228.71,384.17 L229.30,383.90 L229.87,383.65 L230.44,383.44 L230.99,383.25 L231.53,383.09 L232.06,382.96 L232.58,382.87 L233.09,382.82 L233.58,382.81 L234.06,382.83 L234.52,382.90 L234.88,382.99 L235.23,383.10 L235.58,383.24 L235.91,383.40 L236.24,383.59 L236.56,383.79 L236.88,384.02 L237.19,384.27 L237.49,384.54 L237.78,384.83 L238.08,385.13 L238.36,385.44 L238.65,385.77 L238.93,386.12 L239.21,386.47 L239.48,386.84 L239.76,387.21 L240.03,387.59 L240.31,387.98 L240.58,388.37 L240.85,388.76 L241.13,389.16 L241.40,389.56 L241.68,389.96 L241.96,390.36 L242.25,390.76 L242.53,391.16 L242.82,391.55 L243.12,391.93 L243.42,392.31 L243.73,392.68 L244.04,393.04 L244.36,393.39 L244.68,393.73 L245.02,394.05 L245.36,394.36 L245.71,394.66 L246.07,394.94 L246.44,395.20 L246.67,395.35 L246.91,395.50 L247.16,395.64 L247.40,395.77 L247.65,395.90 L247.91,396.01 L248.16,396.13 L248.43,396.23 L248.69,396.33 L248.96,396.43 L249.23,396.52 L249.51,396.61 L249.79,396.68 L250.08,396.76 L250.37,396.83 L250.66,396.90 L250.95,396.96 L251.25,397.01 L251.56,397.07 L251.86,397.12 L252.17,397.16 L252.49,397.21 L252.80,397.24 L253.12,397.28 L253.45,397.31 L253.78,397.35 L254.11,397.37 L254.44,397.40 L254.78,397.43 L255.13,397.45 L255.47,397.47 L255.82,397.49 L256.17,397.51 L256.53,397.52 L256.89,397.54 L257.25,397.56 L257.62,397.57 L257.99,397.59 L258.36,397.60 L259.19,397.63 L260.03,397.66 L260.89,397.70 L261.76,397.73 L262.65,397.76 L263.54,397.79 L264.45,397.83 L265.37,397.86 L266.29,397.89 L267.23,397.92 L268.17,397.95 L269.12,397.98 L270.07,398.01 L271.03,398.04 L271.99,398.07 L272.96,398.10 L273.93,398.13 L274.90,398.15 L275.87,398.18 L276.84,398.20 L277.81,398.23 L278.78,398.25 L279.75,398.27 L280.71,398.29 L281.66,398.31 L282.62,398.33 L283.56,398.34 L284.50,398.36 L285.43,398.37 L286.35,398.38 L287.27,398.39 L288.17,398.40 L289.06,398.41 L289.94,398.41 L290.80,398.41 L291.66,398.41 L292.49,398.41 L293.31,398.41 L294.12,398.40 L294.47,398.40 L294.81,398.39 L295.15,398.39 L295.49,398.38 L295.83,398.38 L296.16,398.37 L296.49,398.37 L296.82,398.36 L297.14,398.36 L297.46,398.35 L297.78,398.35 L298.10,398.34 L298.41,398.34 L298.72,398.33 L299.03,398.33 L299.34,398.32 L299.65,398.32 L299.95,398.32 L300.25,398.31 L300.56,398.31 L300.85,398.31 L301.15,398.31 L301.45,398.30 L301.74,398.30 L302.03,398.30 L302.33,398.30 L302.62,398.31 L302.91,398.31 L303.19,398.31 L303.48,398.32 L303.77,398.32 L304.05,398.33 L304.34,398.33 L304.62,398.34 L304.91,398.35 L305.19,398.36 L305.47,398.37 L305.76,398.39 L306.04,398.40 L306.32,398.42 L306.61,398.43 L306.89,398.45 L307.17,398.47 L307.45,398.49 L307.74,398.51 L308.02,398.53 L308.31,398.55 L308.59,398.57 L308.88,398.59 L309.16,398.61 L309.45,398.63 L309.74,398.65 L310.03,398.67 L310.32,398.69 L310.62,398.70 L310.91,398.72 L311.21,398.73 L311.50,398.74 L311.80,398.75 L312.10,398.76 L312.41,398.77 L312.71,398.77 L313.02,398.78 L313.33,398.77 L313.64,398.77 L313.96,398.76 L314.27,398.76 L314.59,398.74 L314.92,398.73 L315.24,398.71 L315.57,398.68 L315.90,398.66 L316.24,398.62 L316.57,398.59 L316.92,398.55 L317.26,398.50 L317.61,398.45 L317.96,398.40 L320.10,397.95 L322.24,397.40 L324.38,396.77 L326.52,396.06 L328.66,395.28 L330.80,394.43 L332.94,393.52 L335.08,392.54 L337.22,391.52 L339.35,390.45 L341.49,389.35 L343.63,388.20 L345.77,387.03 L347.91,385.84 L350.05,384.62 L352.19,383.40 L354.33,382.17 L356.47,380.93 L358.61,379.71 L360.75,378.49 L362.89,377.29 L365.03,376.11 L367.17,374.96 L369.31,373.84 L371.45,372.76 L373.59,371.72 L375.73,370.73 L377.87,369.80 L380.01,368.93 L382.14,368.12 L384.28,367.39 L386.42,366.74 L388.56,366.16 L390.70,365.68 L392.84,365.29 L394.98,365.01 L397.12,364.82 L399.26,364.75 L401.40,364.80 L401.71,365.37 L402.01,365.95 L402.32,366.54 L402.62,367.14 L402.93,367.75 L403.23,368.37 L403.54,369.00 L403.85,369.63 L404.15,370.27 L404.46,370.92 L404.76,371.57 L405.07,372.23 L405.37,372.89 L405.68,373.56 L405.98,374.24 L406.29,374.91 L406.60,375.59 L406.90,376.27 L407.21,376.96 L407.51,377.65 L407.82,378.33 L408.12,379.02 L408.43,379.71 L408.74,380.40 L409.04,381.09 L409.35,381.78 L409.65,382.46 L409.96,383.15 L410.26,383.83 L410.57,384.51 L410.87,385.18 L411.18,385.85 L411.49,386.52 L411.79,387.18 L412.10,387.84 L412.40,388.49 L412.71,389.13 L413.01,389.77 L413.32,390.40 L413.63,390.70 L413.93,391.00 L414.24,391.29 L414.54,391.58 L414.85,391.87 L415.15,392.14 L415.46,392.42 L415.77,392.69 L416.07,392.95 L416.38,393.21 L416.68,393.46 L416.99,393.71 L417.29,393.95 L417.60,394.19 L417.90,394.42 L418.21,394.64 L418.52,394.86 L418.82,395.08 L419.13,395.29 L419.43,395.49 L419.74,395.69 L420.04,395.89 L420.35,396.07 L420.66,396.26 L420.96,396.43 L421.27,396.61 L421.57,396.77 L421.88,396.93 L422.18,397.08 L422.49,397.23 L422.79,397.37 L423.10,397.51 L423.41,397.64 L423.71,397.77 L424.02,397.88 L424.32,398.00 L424.63,398.10 L424.93,398.21 L425.24,398.30 L425.53,398.35 L425.81,398.40 L426.10,398.44 L426.39,398.48 L426.69,398.51 L426.98,398.54 L427.27,398.57 L427.57,398.59 L427.87,398.62 L428.16,398.63 L428.46,398.65 L428.76,398.66 L429.07,398.67 L429.37,398.68 L429.67,398.69 L429.98,398.69 L430.28,398.69 L430.59,398.69 L430.90,398.68 L431.21,398.67 L431.51,398.67 L431.82,398.66 L432.13,398.64 L432.45,398.63 L432.76,398.62 L433.07,398.60 L433.38,398.58 L433.70,398.56 L434.01,398.54 L434.32,398.52 L434.64,398.50 L434.95,398.47 L435.27,398.45 L435.58,398.43 L435.90,398.40 L436.21,398.38 L436.53,398.35 L436.84,398.33 L437.16,398.30" fill="none" stroke="#000" stroke-width="2.6" stroke-linejoin="round" stroke-linecap="round"/>
<ellipse cx="115.32" cy="398.40" rx="3.8" ry="4.4" fill="url(#mr)"/>
<ellipse cx="127.24" cy="398.40" rx="3.8" ry="4.4" fill="url(#mr)"/>
<ellipse cx="139.16" cy="398.40" rx="3.8" ry="4.4" fill="url(#mr)"/>
<ellipse cx="174.92" cy="393.80" rx="3.8" ry="4.4" fill="url(#mr)"/>
<ellipse cx="186.84" cy="397.90" rx="3.8" ry="4.4" fill="url(#mr)"/>
<ellipse cx="198.76" cy="398.00" rx="3.8" ry="4.4" fill="url(#mr)"/>
<ellipse cx="210.68" cy="395.40" rx="3.8" ry="4.4" fill="url(#mr)"/>
<ellipse cx="234.52" cy="382.90" rx="3.8" ry="4.4" fill="url(#mr)"/>
<ellipse cx="246.44" cy="395.20" rx="3.8" ry="4.4" fill="url(#mr)"/>
<ellipse cx="258.36" cy="397.60" rx="3.8" ry="4.4" fill="url(#mr)"/>
<ellipse cx="294.12" cy="398.40" rx="3.8" ry="4.4" fill="url(#mr)"/>
<ellipse cx="306.04" cy="398.40" rx="3.8" ry="4.4" fill="url(#mr)"/>
<ellipse cx="317.96" cy="398.40" rx="3.8" ry="4.4" fill="url(#mr)"/>
<ellipse cx="401.40" cy="364.80" rx="3.8" ry="4.4" fill="url(#mr)"/>
<ellipse cx="413.32" cy="390.40" rx="3.8" ry="4.4" fill="url(#mr)"/>
<ellipse cx="425.24" cy="398.30" rx="3.8" ry="4.4" fill="url(#mr)"/>
<ellipse cx="437.16" cy="398.30" rx="3.8" ry="4.4" fill="url(#mr)"/>
<path d="M74.00,304.00h6.30M74.00,335.60h6.30M74.00,367.20h6.30M74.00,398.80h6.30M74.00,288.20h3.20M74.00,319.80h3.20M74.00,351.40h3.20M74.00,383.00h3.20" stroke="#0a0a0a" stroke-width="1.3" fill="none"/>
<path d="M490.90,304.00h-6.30M490.90,335.60h-6.30M490.90,367.20h-6.30M490.90,398.80h-6.30M490.90,288.20h-3.20M490.90,319.80h-3.20M490.90,351.40h-3.20M490.90,383.00h-3.20" stroke="#0a0a0a" stroke-width="1.3" fill="none"/>
<path d="M103.40,408.90v-6.30M163.00,408.90v-6.30M222.60,408.90v-6.30M282.20,408.90v-6.30M341.80,408.90v-6.30M401.40,408.90v-6.30M461.00,408.90v-6.30M133.20,408.90v-3.20M192.80,408.90v-3.20M252.40,408.90v-3.20M312.00,408.90v-3.20M371.60,408.90v-3.20M431.20,408.90v-3.20" stroke="#0a0a0a" stroke-width="1.3" fill="none"/>
<path d="M74.0,282.5V408.9H490.9V282.5" fill="none" stroke="#0a0a0a" stroke-width="1.3"/>
<rect x="259.6" y="292.4" width="81.9" height="28.6" fill="#fff" stroke="#7a7a7a" stroke-width="0.9"/>
<line x1="261.2" y1="306.6" x2="305.5" y2="306.6" stroke="#000" stroke-width="2.3"/>
<ellipse cx="283.2" cy="306.6" rx="3.8" ry="4.4" fill="url(#mr)"/>
<text transform="translate(309.40,313.80) scale(0.8033,0.9692)" font-size="20.0" >Risk</text>
<text transform="translate(37.60,35.40) scale(0.6222,0.7500)" font-size="20.0" >0.057</text>
<text transform="translate(37.60,62.30) scale(0.6222,0.7500)" font-size="20.0" >0.038</text>
<text transform="translate(37.60,89.60) scale(0.6222,0.7500)" font-size="20.0" >0.019</text>
<text transform="translate(37.60,116.90) scale(0.6222,0.7500)" font-size="20.0" >0.000</text>
<text transform="translate(44.30,176.10) scale(0.6286,0.7500)" font-size="20.0" >0.75</text>
<text transform="translate(44.30,207.60) scale(0.6286,0.7500)" font-size="20.0" >0.50</text>
<text transform="translate(44.30,239.10) scale(0.6286,0.7500)" font-size="20.0" >0.25</text>
<text transform="translate(44.30,270.60) scale(0.6286,0.7500)" font-size="20.0" >0.00</text>
<text transform="translate(30.60,308.20) scale(0.6564,0.7652)" font-size="20.0" >0.0246</text>
<text transform="translate(30.60,339.90) scale(0.6564,0.7652)" font-size="20.0" >0.0164</text>
<text transform="translate(30.60,371.50) scale(0.6564,0.7652)" font-size="20.0" >0.0082</text>
<text transform="translate(30.60,403.00) scale(0.6564,0.7652)" font-size="20.0" >0.0000</text>
<text transform="translate(100.10,426.30) scale(0.8000,0.8939)" font-size="20.0" >0</text>
<text transform="translate(159.70,426.30) scale(0.8000,0.9077)" font-size="20.0" >5</text>
<text transform="translate(215.50,426.30) scale(0.7800,0.9077)" font-size="20.0" >10</text>
<text transform="translate(275.10,426.30) scale(0.7800,0.9077)" font-size="20.0" >15</text>
<text transform="translate(334.70,426.30) scale(0.7800,0.9077)" font-size="20.0" >20</text>
<text transform="translate(394.30,426.30) scale(0.7800,0.9077)" font-size="20.0" >25</text>
<text transform="translate(453.90,426.30) scale(0.7800,0.8939)" font-size="20.0" >30</text>
<text transform="translate(220.70,450.50) scale(0.8668,0.8636)" font-size="20.0" >Sensor numbers</text>
<text transform="translate(24.70,95.50) rotate(-90) scale(0.9580,0.7955)" font-size="20.0" >Severity</text>
<text transform="translate(25.00,238.30) rotate(-90) scale(0.9550,0.8231)" font-size="20.0" >Probability</text>
<text transform="translate(24.40,356.20) rotate(-90) scale(0.8770,0.8308)" font-size="20.0" >Risk</text>
</svg></body></html>
